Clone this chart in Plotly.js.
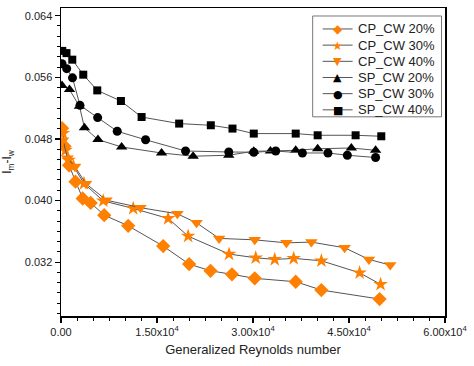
<!DOCTYPE html>
<html>
<head>
<meta charset="utf-8">
<script src="https://cdn.plot.ly/plotly-3.0.1.min.js"></script>
<style>html,body{margin:0;padding:0;background:#fff;}#chart{width:474px;height:366px;}</style>
</head>
<body>
<div id="chart"></div>
<script>
// ---- data ----
const seriesNames = ["CP_CW 20%", "CP_CW 30%", "CP_CW 40%", "SP_CW 20%", "SP_CW 30%", "SP_CW 40%"];

const cp20_x = [156, 546, 1248, 2263, 3386, 4635, 6757, 10502, 15964, 20021, 23361, 26716, 30274, 36672, 40682, 49780];
const cp20_y = [0.04938, 0.04704, 0.04458, 0.04244, 0.04026, 0.03969, 0.03810, 0.03671, 0.03408, 0.03174, 0.03087, 0.03041, 0.02989, 0.02945, 0.02837, 0.02720];

const cp30_x = [312, 702, 1170, 1951, 3589, 6601, 11282, 16744, 19865, 26263, 30430, 33395, 36360, 40682, 46659, 49936];
const cp30_y = [0.04873, 0.04653, 0.04523, 0.04445, 0.04221, 0.03995, 0.03897, 0.03767, 0.03537, 0.03304, 0.03256, 0.03235, 0.03248, 0.03217, 0.03061, 0.02911];

const cp40_x = [312, 1014, 2185, 3901, 7100, 12406, 18180, 21176, 24703, 30274, 35220, 39121, 44318, 48110, 51449];
const cp40_y = [0.04782, 0.04549, 0.04439, 0.04218, 0.04004, 0.03907, 0.03827, 0.03710, 0.03508, 0.03489, 0.03450, 0.03460, 0.03386, 0.03235, 0.03161];

const sp20_x = [156, 1326, 2887, 3667, 5774, 9472, 15714, 20645, 26216, 30118, 32724, 36672, 40105, 45364, 49156];
const sp20_y = [0.05495, 0.05440, 0.05223, 0.04944, 0.04791, 0.04695, 0.04617, 0.04575, 0.04588, 0.04640, 0.04643, 0.04652, 0.04672, 0.04682, 0.04652];

const sp30_x = [156, 889, 1795, 2965, 5727, 8786, 13217, 19460, 26216, 30118, 33551, 37718, 41712, 44740, 49156];
const sp30_y = [0.05777, 0.05712, 0.05593, 0.05236, 0.05077, 0.04899, 0.04789, 0.04643, 0.04630, 0.04627, 0.04643, 0.04617, 0.04617, 0.04588, 0.04558];

const sp40_x = [200, 858, 1763, 3480, 5665, 9363, 12593, 18461, 23408, 26794, 30118, 36672, 40104, 46034, 50044];
const sp40_y = [0.05943, 0.05914, 0.05829, 0.05634, 0.05430, 0.05292, 0.05084, 0.04999, 0.04977, 0.04934, 0.04869, 0.04869, 0.04847, 0.04847, 0.04834];

const xTickVals = [0, 15000, 30000, 45000, 60000];
const xTickText = ["0.00", "1.50x10<sup>4</sup>", "3.00x10<sup>4</sup>", "4.50x10<sup>4</sup>", "6.00x10<sup>4</sup>"];

// ---- styling ----
const orange = "#FF8000";
const lineGray = "#555555";
const symbols = ["diamond", "star", "triangle-down", "triangle-up", "circle", "square"];
const glyphs = ["\u25C6", "\u2605", "\u25BC", "\u25B2", "\u25CF", "\u25A0"];
const colors = [orange, orange, orange, "#000", "#000", "#000"];
const sizes = [11, 11, 11, 10, 9, 8];
const glyphSizes = [12, 12, 11, 11, 11, 11];
const xs = [cp20_x, cp30_x, cp40_x, sp20_x, sp30_x, sp40_x];
const ys = [cp20_y, cp30_y, cp40_y, sp20_y, sp30_y, sp40_y];

const data = seriesNames.map((n, i) => ({
  type: "scatter", mode: "lines+markers", name: n, x: xs[i], y: ys[i],
  line: {color: lineGray, width: 1},
  marker: {symbol: symbols[i], color: colors[i], size: sizes[i], line: {width: 0}}
}));

// plot-area geometry (pixels) used for the hand-built legend
const W = 474, H = 366, mL = 61, mR = 28.5, mT = 7.5, mB = 50;
const pw = W - mL - mR, ph = H - mT - mB;
const px = v => (v - mL) / pw;
const py = v => (H - mB - v) / ph;

const font = "Liberation Sans, Arial, sans-serif";
const shapes = [{
  type: "rect", xref: "paper", yref: "paper",
  x0: px(313), x1: px(442), y0: py(116.5), y1: py(15.5),
  line: {color: "#777", width: 1}, fillcolor: "rgba(0,0,0,0)"
}];
const annotations = [];
seriesNames.forEach((n, i) => {
  const cy = 28.5 + i * 16.2;
  shapes.push({type: "line", xref: "paper", yref: "paper",
    x0: px(323), x1: px(353), y0: py(cy), y1: py(cy),
    line: {color: lineGray, width: 1}});
  annotations.push({xref: "paper", yref: "paper", x: px(338), y: py(cy + 0.5),
    xanchor: "center", yanchor: "middle", showarrow: false,
    text: glyphs[i], font: {family: "DejaVu Sans", size: glyphSizes[i], color: colors[i]}});
  annotations.push({xref: "paper", yref: "paper", x: px(356), y: py(cy),
    xanchor: "left", yanchor: "middle", showarrow: false,
    text: n, font: {family: font, size: 13, color: "#222"}});
});

const layout = {
  width: W, height: H,
  margin: {l: mL, r: mR, t: mT, b: mB},
  paper_bgcolor: "#fff", plot_bgcolor: "#fff",
  font: {family: font, color: "#222", size: 11},
  showlegend: false,
  shapes: shapes,
  annotations: annotations,
  xaxis: {
    range: [0, 60000],
    tickmode: "array", tickvals: xTickVals, ticktext: xTickText,
    ticks: "outside", ticklen: 5, tickwidth: 1.2, tickcolor: "#000",
    showline: true, linecolor: "#000", linewidth: 1.5, mirror: true,
    showgrid: false, zeroline: false,
    tickfont: {family: font, size: 11, color: "#222"},
    minor: {dtick: 2500, tick0: 0, ticks: "outside", ticklen: 3, tickwidth: 1, tickcolor: "#000", showgrid: false},
    title: {text: "Generalized Reynolds number", font: {family: font, size: 13, color: "#222"}, standoff: 8}
  },
  yaxis: {
    range: [0.025, 0.065],
    tickmode: "linear", tick0: 0, dtick: 0.008, tickformat: ".3f",
    ticks: "outside", ticklen: 5, tickwidth: 1.2, tickcolor: "#000",
    showline: true, linecolor: "#000", linewidth: 1.5, mirror: true,
    showgrid: false, zeroline: false,
    tickfont: {family: font, size: 11, color: "#222"},
    minor: {dtick: 0.008/6, tick0: 0, ticks: "outside", ticklen: 3, tickwidth: 1, tickcolor: "#000", showgrid: false},
    title: {text: "I<sub>m</sub>-I<sub>w</sub>", font: {family: font, size: 12, color: "#222"}, standoff: 10}
  }
};
Plotly.newPlot("chart", data, layout, {displayModeBar: false, staticPlot: true});
</script>
</body>
</html>
